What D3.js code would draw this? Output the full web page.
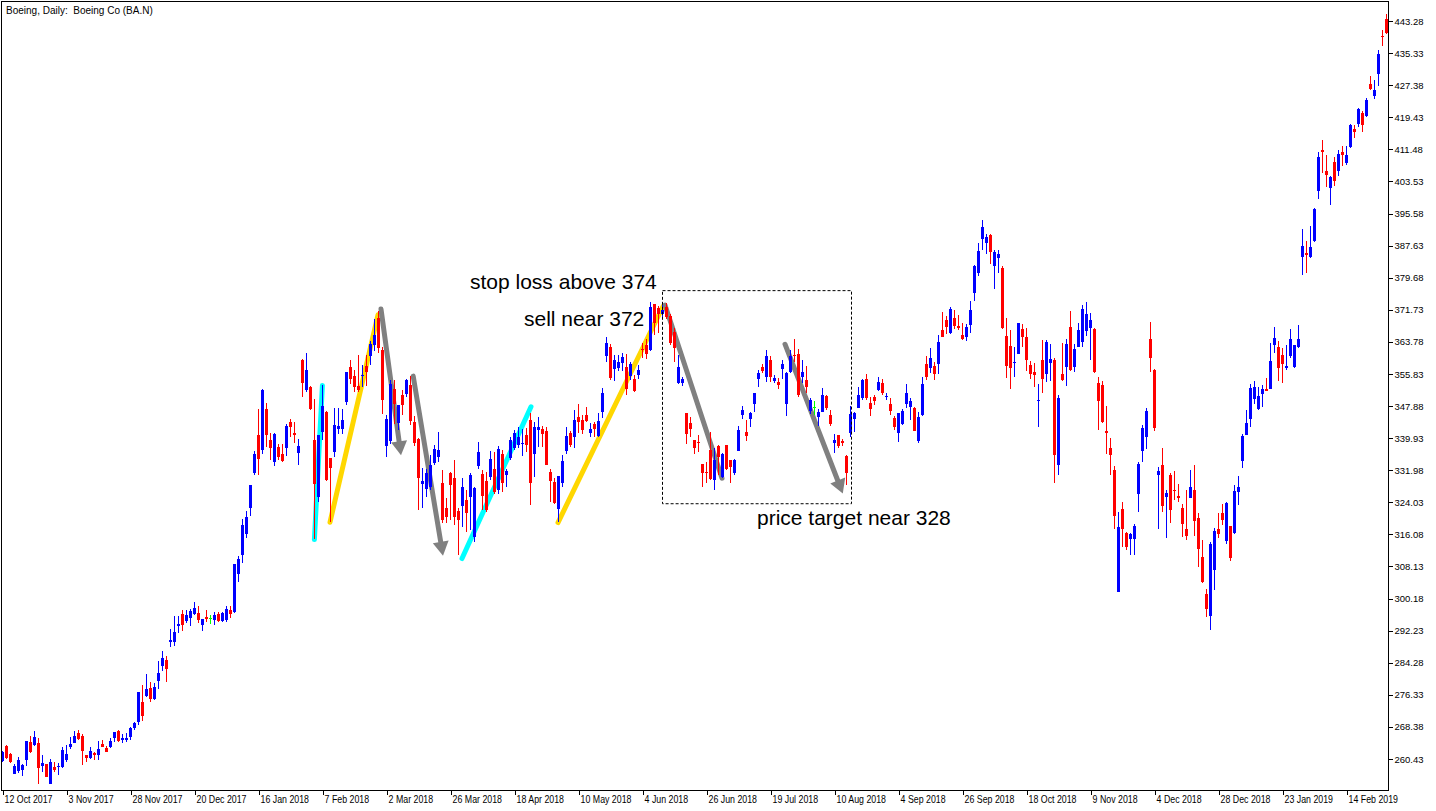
<!DOCTYPE html>
<html><head><meta charset="utf-8">
<script src="https://cdn.jsdelivr.net/npm/d3@7/dist/d3.min.js"></script>
<style>
html,body{margin:0;padding:0;background:#fff;}
svg{display:block;}
</style></head>
<body>
<svg id="chart" width="1436" height="811"></svg>
<script>
// ---- DATA ----
const chartTitle = "Boeing, Daily:  Boeing Co (BA.N)";
// daily candles [open, high, low, close], first bar = 12 Oct 2017, last = 1 Mar 2019
const ohlc = [
[260.0,262.4,259.6,262.1],[263.6,263.8,260.5,260.7],[261.6,261.8,259.5,259.7],[256.8,259.2,256.6,258.7],
[257.5,261.0,256.9,260.2],[257.7,259.2,256.3,258.9],[260.2,265.0,258.7,264.9],[264.6,266.1,262.0,262.2],
[263.9,267.3,263.7,265.9],[264.4,265.6,254.3,258.2],[258.7,261.4,257.3,259.4],[259.2,259.3,255.9,256.0],
[254.3,260.4,254.2,259.6],[258.4,259.6,257.3,257.7],[258.5,259.4,256.5,258.7],[258.5,263.4,258.2,262.6],
[260.2,263.9,259.7,261.6],[263.3,265.9,262.9,264.1],[264.5,267.3,264.3,266.1],[266.8,267.6,265.2,265.4],
[266.1,266.6,259.0,262.5],[261.4,261.5,259.7,260.7],[260.7,263.4,260.5,262.4],[261.9,262.1,260.2,261.5],
[261.5,264.9,260.2,262.9],[264.1,265.1,263.3,263.4],[263.1,263.6,262.1,262.2],[263.5,265.6,263.1,264.9],
[265.6,267.2,264.7,267.1],[267.3,267.5,264.7,264.9],[265.1,266.6,264.4,265.6],[265.1,266.8,264.6,265.6],
[265.9,268.3,265.1,268.1],[268.1,269.6,267.6,269.3],[269.6,277.1,268.8,277.0],[274.5,278.7,269.8,271.1],
[276.0,281.5,275.9,277.7],[278.0,279.5,274.5,275.3],[275.3,279.2,275.0,278.2],[279.7,284.7,277.8,281.7],
[283.4,287.2,282.2,285.4],[284.9,285.9,279.5,282.7],[289.5,292.6,288.2,289.9],[289.4,295.8,288.4,291.9],
[293.4,295.8,291.6,293.9],[296.3,297.3,292.1,293.6],[294.6,297.3,294.1,296.1],[295.3,297.6,293.4,297.1],
[296.3,299.3,296.1,297.8],[296.6,298.3,294.1,294.8],[293.6,295.2,292.1,295.1],[295.6,297.3,294.4,295.1],
[295.3,296.1,293.9,295.3],[294.8,296.8,293.6,296.1],[296.3,296.8,294.4,294.6],[294.6,296.8,294.3,296.6],
[294.8,298.3,294.3,297.6],[297.3,298.3,295.3,296.3],[296.8,308.8,296.6,308.7],[306.3,310.7,304.3,310.0],
[311.0,319.9,308.9,318.4],[316.2,321.8,315.3,320.4],[322.7,328.4,320.7,328.3],[331.3,336.7,330.9,336.0],
[340.7,347.1,330.9,334.8],[337.0,352.1,336.0,351.8],[347.1,348.6,337.7,340.7],[339.5,341.2,334.5,337.5],
[334.0,341.2,333.0,340.9],[337.7,338.5,334.5,335.2],[336.0,338.5,334.0,334.3],[337.5,343.4,335.5,342.9],
[343.9,344.6,340.2,342.7],[341.2,343.9,338.7,340.7],[336.2,339.7,333.3,337.9],[359.3,359.5,350.2,353.7],
[351.8,361.0,351.3,356.8],[352.6,352.8,346.9,347.1],[339.5,349.6,315.0,328.5],[325.3,340.8,324.1,340.7],
[341.4,353.1,339.5,347.9],[346.4,346.6,329.3,329.5],[335.0,335.0,319.1,332.5],[336.5,347.4,335.3,343.2],
[342.2,347.4,340.9,342.9],[342.2,347.1,340.9,344.4],[348.9,356.4,348.1,356.3],[357.5,359.3,353.3,354.6],
[355.3,356.8,351.3,352.6],[352.8,360.5,351.3,351.8],[355.4,358.0,352.6,355.6],[357.8,360.5,352.8,356.3],
[360.3,364.0,358.0,363.2],[363.0,369.5,361.5,365.5],[369.7,371.5,361.0,362.3],[361.8,362.5,345.9,349.4],
[338.0,345.6,335.3,344.6],[339.2,354.3,338.5,353.3],[352.1,354.3,343.4,348.4],[343.7,348.2,341.9,348.1],
[350.6,351.8,345.6,348.1],[350.8,354.6,350.1,354.3],[353.1,355.3,343.2,344.1],[344.0,345.5,338.0,338.6],
[339.7,340.0,322.1,330.0],[328.5,332.5,322.6,329.4],[327.3,332.4,325.3,331.3],[327.8,335.7,327.1,333.2],
[333.7,338.2,333.3,337.3],[335.3,341.5,334.1,337.0],[328.9,332.0,318.8,319.6],[322.5,325.0,318.8,320.4],
[331.2,331.6,319.6,328.3],[330.0,334.5,318.4,320.4],[321.8,322.5,310.9,319.6],[323.1,330.0,317.9,327.7],
[324.6,327.1,316.7,321.4],[325.3,331.2,317.1,330.8],[315.5,327.9,314.2,327.6],[333.0,338.9,332.4,336.4],
[331.0,332.0,322.1,325.6],[329.4,331.6,321.7,322.1],[330.2,336.8,329.5,334.7],[332.2,336.5,326.1,326.6],
[327.2,337.9,326.2,337.3],[336.1,337.1,326.6,328.9],[330.8,332.4,327.9,331.7],[334.9,340.3,334.5,339.5],
[337.4,341.9,337.0,341.1],[338.2,342.7,337.4,340.3],[338.5,342.1,335.5,338.8],[340.8,342.4,336.5,338.2],
[344.4,346.1,323.3,328.7],[336.1,343.9,330.4,342.7],[341.9,345.2,337.8,342.6],[342.1,343.0,337.8,340.9],
[341.8,342.6,333.2,333.3],[331.6,332.4,324.2,329.3],[329.1,330.0,323.7,323.8],[322.3,330.6,319.2,330.5],
[328.7,335.7,327.9,334.2],[336.8,342.7,336.1,340.5],[341.1,341.8,337.8,338.2],[340.3,346.9,337.4,344.4],
[345.2,348.5,341.1,344.0],[344.4,345.6,340.9,341.9],[345.6,347.7,344.0,344.2],[341.2,343.6,340.3,342.3],
[343.4,344.0,340.3,342.1],[340.4,346.1,340.1,344.2],[346.5,352.3,344.8,351.2],[360.3,365.1,358.9,363.4],
[362.5,363.2,354.3,354.8],[357.0,360.5,354.1,359.3],[357.2,360.5,356.6,358.8],[358.5,361.0,356.6,360.1],
[357.6,360.8,350.6,352.0],[355.3,358.9,354.3,358.3],[354.7,355.5,351.4,351.7],[355.5,358.0,354.7,356.8],
[362.0,363.5,359.8,361.7],[363.0,364.5,359.5,360.8],[361.7,373.6,361.5,372.5],[373.1,373.2,365.5,368.4],
[372.2,372.7,366.0,370.8],[370.8,373.0,369.5,371.6],[372.3,373.5,369.5,370.0],[370.2,370.8,363.0,363.4],
[366.3,367.1,358.9,362.2],[353.5,360.5,353.3,357.5],[353.5,355.1,352.8,354.7],[346.1,346.2,338.5,340.9],
[343.6,345.2,340.3,342.2],[339.5,339.5,336.1,337.4],[339.0,340.6,336.5,338.9],[333.5,333.5,327.7,331.2],
[331.6,334.1,328.7,331.2],[337.0,341.5,329.6,329.7],[329.5,337.4,327.2,334.5],[338.0,338.2,330.8,335.3],
[330.4,336.3,330.0,336.1],[338.2,338.3,332.0,332.2],[334.5,334.6,328.9,332.8],[331.2,334.7,330.8,334.5],
[336.8,342.9,336.7,341.9],[345.6,347.9,344.6,346.9],[341.5,344.3,339.3,340.4],[344.6,346.5,342.7,346.2],
[348.5,351.0,346.5,351.0],[354.5,356.8,352.5,356.1],[357.5,358.3,356.0,356.6],[355.1,361.8,353.9,360.3],
[359.3,360.3,353.9,355.1],[354.1,355.5,353.5,354.9],[353.8,354.9,352.0,353.0],[357.0,359.3,354.6,358.4],
[348.5,356.4,345.5,356.0],[356.4,361.8,356.0,360.3],[360.5,364.4,358.8,360.3],[360.8,361.9,350.2,350.6],
[355.1,359.3,353.5,356.4],[354.3,357.8,351.0,352.5],[346.7,349.8,345.9,349.5],[347.7,349.2,345.6,347.7],
[345.2,347.1,343.0,346.5],[346.5,352.3,346.3,350.6],[350.4,350.6,346.9,347.3],[345.6,346.9,343.0,343.4],
[338.6,340.9,336.3,339.5],[340.7,340.8,337.4,338.0],[339.1,339.6,338.0,338.8],[335.5,335.7,328.3,331.3],
[341.3,347.9,340.3,345.9],[344.6,346.5,341.5,346.2],[347.5,352.5,347.3,350.6],[349.8,354.5,349.5,354.3],
[354.7,355.8,349.5,349.8],[348.7,350.2,345.4,347.2],[350.0,350.6,348.1,349.2],[351.8,355.0,351.7,353.9],
[353.5,354.5,350.6,351.0],[350.0,351.0,349.4,350.4],[348.5,349.8,345.6,346.7],[344.8,345.4,341.9,342.6],
[341.3,346.2,339.0,346.1],[343.4,347.1,343.2,346.7],[348.5,353.3,347.5,351.0],[347.7,349.8,344.4,349.2],
[347.3,347.7,341.7,341.8],[339.3,346.5,338.6,345.1],[345.6,355.1,345.4,353.3],[358.3,360.3,354.3,355.0],
[357.4,362.3,356.0,359.7],[357.8,358.9,354.3,355.7],[358.3,365.6,355.8,363.7],[366.7,371.2,364.9,365.1],
[369.3,370.2,365.7,367.5],[365.9,372.3,365.7,371.9],[369.7,371.7,366.9,367.7],[367.7,370.4,366.7,367.1],
[365.6,368.5,364.3,364.5],[365.1,368.1,364.1,367.5],[367.9,374.0,365.9,371.7],[375.8,382.9,374.0,382.6],
[380.9,388.4,380.1,386.3],[389.2,394.0,386.5,392.3],[388.2,390.5,385.5,389.8],[390.3,390.5,383.0,386.1],
[382.6,386.5,376.9,386.1],[384.6,386.5,380.9,385.5],[382.2,382.5,366.9,367.1],[365.2,369.8,354.9,357.8],
[362.7,366.7,352.1,357.2],[358.5,362.4,355.1,358.9],[360.8,368.5,360.7,368.4],[367.0,368.2,362.4,365.0],
[365.0,367.3,356.6,359.4],[358.0,359.1,354.5,355.8],[356.4,358.6,352.5,355.6],[349.2,353.3,342.6,349.5],
[359.3,364.2,351.0,354.7],[355.9,364.2,353.9,363.8],[358.5,363.2,354.1,359.5],[359.3,359.7,328.7,335.7],
[333.3,350.6,330.8,349.8],[355.8,363.4,354.2,354.3],[357.6,364.6,352.9,363.2],[367.5,371.4,356.6,356.8],
[357.5,363.2,356.4,361.9],[362.6,368.4,362.5,366.7],[363.8,372.9,362.4,371.9],[366.5,373.7,365.3,370.7],
[367.1,371.0,359.3,369.2],[366.9,367.1,356.0,356.4],[353.6,355.1,341.9,349.2],[353.1,354.1,343.6,344.0],
[341.8,347.9,336.1,341.3],[337.6,339.9,330.8,335.7],[332.0,333.0,317.3,320.6],[301.9,321.7,301.8,317.8],
[322.3,324.0,313.0,317.3],[316.5,316.7,312.2,312.9],[314.9,316.5,310.9,316.1],[314.9,318.6,310.9,318.1],
[326.2,334.1,321.7,333.5],[336.7,343.3,334.0,342.5],[340.3,347.5,337.3,346.7],[364.4,368.8,356.4,359.9],
[356.9,357.0,341.7,342.5],[330.8,332.9,317.3,331.9],[333.3,337.5,321.6,323.1],[325.4,327.1,315.3,326.3],
[330.8,331.3,318.8,322.1],[327.2,331.9,324.6,326.8],[325.5,328.6,324.1,325.2],[322.6,323.6,315.4,318.6],
[317.4,327.1,314.7,315.8],[325.2,332.1,325.1,327.9],[327.1,333.3,315.7,319.4],[320.1,321.4,307.9,312.4],
[310.6,314.8,304.1,304.2],[301.2,302.5,295.5,297.7],[295.9,314.2,292.5,313.7],[307.2,317.6,302.2,316.9],
[317.4,321.4,315.2,316.3],[321.5,323.6,318.4,319.7],[314.4,324.0,313.8,323.9],[318.1,318.2,309.5,310.2],
[316.4,328.4,316.3,326.8],[326.6,330.5,323.4,327.9],[334.3,341.0,332.6,340.5],[340.7,346.8,340.6,343.7],
[344.7,353.4,342.7,352.4],[349.6,354.2,348.5,352.6],[347.2,352.6,347.0,350.3],[350.9,353.2,347.7,352.2],
[352.2,354.9,351.5,351.6],[352.2,363.6,352.1,359.1],[363.1,367.4,360.9,364.7],[362.6,363.9,354.2,357.4],
[360.6,362.2,353.6,358.4],[357.4,363.1,356.9,357.9],[360.4,366.9,359.9,364.4],[357.6,363.1,357.2,362.9],
[362.4,367.9,362.3,364.4],[384.7,391.8,380.3,387.5],[385.8,388.8,380.8,385.3],[384.7,392.5,384.6,387.3],
[388.7,396.9,388.6,396.7],[401.2,410.7,399.2,409.5],[411.4,413.7,405.7,410.7],[406.2,410.0,402.2,405.2],
[402.0,405.0,397.7,404.7],[408.4,409.7,402.4,403.7],[406.0,411.2,405.0,410.4],[410.7,412.2,407.4,410.2],
[408.0,412.2,407.7,410.0],[412.0,417.8,411.7,417.6],[416.6,417.6,414.4,415.9],[417.8,421.8,417.1,421.6],
[420.4,421.0,415.7,417.4],[419.8,424.1,419.6,423.6],[427.6,429.6,426.1,426.4],[424.6,428.7,423.9,426.2],
[430.1,436.1,427.1,435.1],[439.6,441.0,437.1,439.4],[443.8,445.0,440.0,440.2]
];
// time-axis labels, one every 16 bars starting at bar 0
const dateLabels = ["12 Oct 2017","3 Nov 2017","28 Nov 2017","20 Dec 2017","16 Jan 2018","7 Feb 2018",
 "2 Mar 2018","26 Mar 2018","18 Apr 2018","10 May 2018","4 Jun 2018","26 Jun 2018","19 Jul 2018",
 "10 Aug 2018","4 Sep 2018","26 Sep 2018","18 Oct 2018","9 Nov 2018","4 Dec 2018","28 Dec 2018",
 "23 Jan 2019","14 Feb 2019"];
const barsPerDateLabel = 16;
const priceTicks = [443.28,435.33,427.38,419.43,411.48,403.53,395.58,387.63,379.68,371.73,363.78,
 355.83,347.88,339.93,331.98,324.03,316.08,308.13,300.18,292.23,284.28,276.33,268.38,260.43];
// hand-drawn objects, anchored at [bar index, price]
const trendLines = [
 {kind:"yellow", from:[82,319.1],   to:[94,370.5],    arrow:false},
 {kind:"cyan",   from:[78.1,314.8], to:[80.1,353.0],  arrow:false},
 {kind:"gray",   from:[94.75,371.9],to:[99.75,335.7], arrow:true},
 {kind:"gray",   from:[102.8,355.3],to:[110.25,310.8],arrow:true},
 {kind:"cyan",   from:[115,310.1],  to:[132.25,347.7],arrow:false},
 {kind:"yellow", from:[139,319.0],  to:[165.25,372.6],arrow:false},
 {kind:"gray",   from:[165.75,372.9],to:[180,330.0],  arrow:false},
 {kind:"gray",   from:[195.75,363.2],to:[210.2,326.2],arrow:true}
];
const targetBox = {from:[165,376.6], to:[212.25,323.8]};
const notes = [
 {text:"stop loss above 374", at:[117,376.85]},
 {text:"sell near 372", at:[130.5,367.7]},
 {text:"price target near 328", at:[188.75,318.4]}
];

// ---- STYLE ----
const colors = {bull:"#0000ff", bear:"#ff0000", doji:"#00ff00",
  yellow:"#ffd700", cyan:"#00ffff", gray:"#808080"};
const lineWidth = {yellow:5, cyan:5, gray:5};

// ---- LAYOUT ----
const frame = {left:1, top:1, right:1388, bottom:790};
const svg = d3.select("#chart");
const x = d3.scaleLinear().domain([0, ohlc.length-1]).range([2, 2 + 4*(ohlc.length-1)]);
const y = d3.scaleLinear().domain([priceTicks[priceTicks.length-1], priceTicks[0]]).range([759, 21]);

svg.append("defs").append("clipPath").attr("id","clip")
  .append("rect").attr("x",frame.left+1).attr("y",frame.top+1)
  .attr("width",frame.right-frame.left-1).attr("height",frame.bottom-frame.top-1);

const plot = svg.append("g").attr("clip-path","url(#clip)");

// background objects (drawn behind candles like MT4 objects)
const objs = plot.append("g");
trendLines.forEach(t => {
  const x1 = x(t.from[0]), y1 = y(t.from[1]), x2 = x(t.to[0]), y2 = y(t.to[1]);
  let ex = x2, ey = y2;
  if (t.arrow) {
    const dx = x2-x1, dy = y2-y1, len = Math.hypot(dx,dy);
    const ux = dx/len, uy = dy/len, nx = -uy, ny = ux;
    const hl = 14, hw = 8;
    ex = x2 - ux*hl; ey = y2 - uy*hl;
    objs.append("polygon")
      .attr("points", [[x2,y2],[ex+nx*hw,ey+ny*hw],[ex-nx*hw,ey-ny*hw]].map(p=>p.join(",")).join(" "))
      .attr("fill", colors[t.kind]);
  }
  objs.append("line").attr("x1",x1).attr("y1",y1).attr("x2",ex).attr("y2",ey)
    .attr("stroke",colors[t.kind]).attr("stroke-width",lineWidth[t.kind])
    .attr("stroke-linecap","round");
});

// candles
const cg = plot.append("g").attr("shape-rendering","crispEdges");
const candleColor = d => d[3] > d[0] ? colors.bull : (d[3] < d[0] ? colors.bear : colors.doji);
cg.selectAll("rect.wick").data(ohlc).join("rect").attr("class","wick")
  .attr("x",(d,i)=>x(i)).attr("width",1)
  .attr("y",d=>y(d[1])).attr("height",d=>Math.max(1,y(d[2])-y(d[1])))
  .attr("fill",candleColor);
cg.selectAll("rect.body").data(ohlc).join("rect").attr("class","body")
  .attr("x",(d,i)=>x(i)-1).attr("width",3)
  .attr("y",d=>y(Math.max(d[0],d[3])))
  .attr("height",d=>Math.max(1,Math.abs(y(d[0])-y(d[3]))))
  .attr("fill",candleColor);

// dashed target box
plot.append("rect")
  .attr("x",x(targetBox.from[0])+0.5).attr("y",y(targetBox.from[1])+0.5)
  .attr("width",x(targetBox.to[0])-x(targetBox.from[0]))
  .attr("height",y(targetBox.to[1])-y(targetBox.from[1]))
  .attr("fill","none").attr("stroke","#000").attr("stroke-width",1)
  .attr("stroke-dasharray","3,2");

// text notes
plot.selectAll("text.note").data(notes).join("text").attr("class","note")
  .attr("x",d=>x(d.at[0])).attr("y",d=>y(d.at[1]))
  .attr("font-family","'Liberation Sans', Arial, sans-serif").attr("font-size",21)
  .attr("fill","#000").text(d=>d.text);

// frame
const fr = svg.append("g").attr("shape-rendering","crispEdges").attr("stroke","#000").attr("fill","none");
fr.append("rect").attr("x",frame.left+0.5).attr("y",frame.top+0.5)
  .attr("width",frame.right-frame.left).attr("height",frame.bottom-frame.top);

// price axis
const yAxis = d3.axisRight(y).tickValues(priceTicks).tickSize(4).tickSizeOuter(0)
  .tickPadding(2).tickFormat(d3.format(".2f"));
const ya = svg.append("g").attr("transform",`translate(${frame.right+0.5},0)`).call(yAxis);
ya.select(".domain").remove();
ya.selectAll("line").attr("shape-rendering","crispEdges");
ya.selectAll("text").attr("font-family","'Liberation Sans', Arial, sans-serif").attr("font-size",9.5).attr("fill","#000");

// time axis (labels horizontally condensed like the terminal font)
const tickBars = dateLabels.map((_,k)=>k*barsPerDateLabel);
const xAxis = d3.axisBottom(x).tickValues(tickBars).tickSize(4).tickSizeOuter(0)
  .tickPadding(2).tickFormat((d,k)=>dateLabels[k]);
const xa = svg.append("g").attr("transform",`translate(0.5,${frame.bottom+0.5})`).call(xAxis);
xa.select(".domain").remove();
xa.selectAll("line").attr("shape-rendering","crispEdges");
xa.selectAll("text").attr("text-anchor","start").attr("x",2).attr("dy","0.55em")
  .attr("transform","scale(0.8,1)")
  .attr("font-family","'Liberation Sans', Arial, sans-serif")
  .attr("font-size",11).attr("fill","#000");

// title
svg.append("text").attr("x",6).attr("y",14).attr("xml:space","preserve").style("white-space","pre")
  .attr("font-family","'Liberation Sans', Arial, sans-serif").attr("font-size",10).attr("fill","#000")
  .text(chartTitle);
</script>
</body></html>
